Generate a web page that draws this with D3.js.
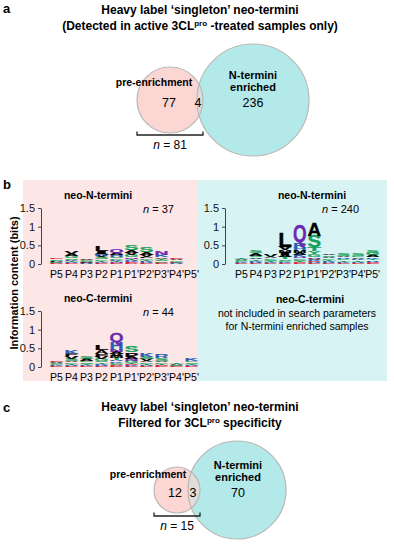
<!DOCTYPE html>
<html>
<head>
<meta charset="utf-8">
<script src="https://cdn.jsdelivr.net/npm/d3@7"></script>
<style>
  body { margin: 0; background: #fff; }
  svg { display: block; font-family: "Liberation Sans", Arial, sans-serif; }
</style>
</head>
<body>
<div id="fig"></div>
<script>
// ---- data ----
const positions = ["P5", "P4", "P3", "P2", "P1", "P1'", "P2'", "P3'", "P4'", "P5'"];
const yTicks = [0, 0.5, 1, 1.5];

// venn counts
const vennA = {left: 77, both: 4, right: 236, n: 81};
const vennC = {left: 12, both: 3, right: 70, n: 15};

// logo letters per position, bottom -> top, [residue, bits]
const logoNpre = [
  [["D",.015],["K",.02],["G",.025],["P",.03],["S",.035],["E",.045]],
  [["E",.02],["R",.025],["T",.03],["K",.035],["S",.045],["G",.05],["A",.05],["V",.065]],
  [["R",.015],["E",.02],["A",.025],["S",.03],["G",.03],["V",.04]],
  [["E",.02],["K",.03],["T",.035],["G",.04],["S",.05],["V",.05],["R",.055],["I",.06],["L",.14]],
  [["E",.02],["N",.025],["T",.03],["K",.035],["G",.04],["S",.045],["H",.05],["A",.06],["Q",.12]],
  [["D",.02],["E",.025],["K",.03],["R",.03],["T",.035],["N",.04],["G",.06],["V",.05],["A",.08],["S",.13]],
  [["E",.02],["R",.025],["K",.03],["T",.035],["G",.04],["P",.045],["V",.05],["A",.08],["S",.13]],
  [["E",.02],["D",.02],["G",.03],["S",.035],["T",.04],["A",.045],["K",.05],["N",.09]],
  [["R",.02],["D",.02],["T",.025],["G",.03],["A",.03],["E",.045]],
  [["N",.012],["E",.01]]
];
const logoNenr = [
  [["E",.02],["K",.025],["G",.03],["S",.03],["A",.03],["T",.035]],
  [["E",.025],["R",.03],["K",.035],["T",.04],["V",.045],["G",.05],["A",.06],["S",.075]],
  [["E",.02],["K",.025],["T",.03],["S",.035],["G",.04],["A",.045],["V",.055]],
  [["E",.02],["K",.03],["G",.04],["S",.045],["T",.05],["A",.055],["I",.06],["M",.065],["V",.085],["L",.4]],
  [["E",.02],["D",.025],["T",.03],["S",.035],["G",.04],["N",.045],["K",.05],["A",.06],["M",.06],["H",.07],["R",.15],["Q",.45]],
  [["E",.02],["R",.025],["D",.025],["K",.03],["V",.035],["N",.04],["G",.08],["Y",.08],["T",.12],["S",.3],["A",.35]],
  [["E",.02],["R",.025],["K",.03],["T",.035],["G",.04],["A",.04],["S",.045],["V",.045]],
  [["E",.03],["K",.03],["T",.035],["G",.04],["R",.04],["A",.045],["S",.06]],
  [["E",.03],["R",.03],["T",.035],["K",.04],["A",.04],["G",.045],["S",.06]],
  [["E",.03],["D",.03],["R",.035],["T",.04],["K",.045],["A",.05],["G",.06],["S",.07]]
];
const logoCpre = [
  [["E",.02],["K",.025],["G",.03],["S",.03],["A",.03],["E",.035]],
  [["E",.02],["R",.03],["T",.035],["G",.04],["A",.045],["S",.05],["V",.07],["P",.05],["K",.11]],
  [["E",.02],["K",.03],["T",.035],["S",.04],["G",.045],["A",.05],["S",.05]],
  [["E",.02],["R",.03],["K",.035],["T",.04],["S",.045],["G",.05],["V",.06],["F",.07],["A",.1],["L",.13]],
  [["E",.02],["D",.025],["S",.03],["G",.035],["K",.04],["R",.04],["T",.05],["M",.05],["V",.05],["A",.06],["N",.06],["H",.22],["Q",.25]],
  [["E",.02],["K",.03],["D",.03],["T",.04],["G",.05],["N",.05],["A",.06],["P",.12],["S",.16]],
  [["E",.02],["R",.03],["T",.035],["G",.04],["A",.045],["V",.05],["S",.06],["K",.11]],
  [["E",.02],["D",.03],["T",.035],["G",.04],["A",.045],["S",.06],["R",.09]],
  [["E",.02],["G",.02],["S",.02],["A",.02],["T",.02]],
  [["E",.02],["R",.03],["T",.035],["S",.04],["G",.045],["K",.05]]
];

const residueColor = r => {
  if ("DE".includes(r)) return "#d7263d";
  if ("KRH".includes(r)) return "#2b5fb4";
  if ("QN".includes(r)) return "#6a2ab0";
  if ("STGYC".includes(r)) return "#16a05a";
  return "#000";
};

const W = 394, H = 550;
const font = "'Liberation Sans', Arial, sans-serif";

const svg = d3.select("#fig").append("svg")
  .attr("width", W)
  .attr("height", H);

// panel letters
svg.append("text").attr("x", 3).attr("y", 13).attr("font-size", 13).attr("font-weight", "bold").text("a");
svg.append("text").attr("x", 3).attr("y", 189).attr("font-size", 13).attr("font-weight", "bold").text("b");
svg.append("text").attr("x", 3).attr("y", 412).attr("font-size", 13).attr("font-weight", "bold").text("c");

// ---- titles ----
function title(lines, y0) {
  lines.forEach((ln, i) => {
    const t = svg.append("text")
      .attr("x", 200).attr("y", y0 + i * 15.5)
      .attr("text-anchor", "middle")
      .attr("font-size", 12).attr("font-weight", "bold");
    ln.forEach(part => {
      const s = t.append("tspan").text(part.t);
      if (part.sup) s.attr("font-size", 8).attr("dy", -4);
      if (part.after) s.attr("dy", 4);
    });
  });
}
title([[{t: "Heavy label \u2018singleton\u2019 neo-termini"}],
       [{t: "(Detected in active 3CL"}, {t: "pro", sup: true}, {t: " -treated samples only)", after: true}]], 14);
title([[{t: "Heavy label \u2018singleton\u2019 neo-termini"}],
       [{t: "Filtered for 3CL"}, {t: "pro", sup: true}, {t: " specificity", after: true}]], 411);

// ---- venn diagrams ----
let clipId = 0;
function venn(cfg, v) {
  const g = svg.append("g");
  const id = "vclip" + (clipId++);
  g.append("clipPath").attr("id", id)
    .append("circle").attr("cx", cfg.rx).attr("cy", cfg.cy).attr("r", cfg.rr);
  g.append("circle").attr("cx", cfg.lx).attr("cy", cfg.cy).attr("r", cfg.lr).attr("fill", "#fcd6d3");
  g.append("circle").attr("cx", cfg.rx).attr("cy", cfg.cy).attr("r", cfg.rr).attr("fill", "#b4e9ea");
  g.append("circle").attr("cx", cfg.lx).attr("cy", cfg.cy).attr("r", cfg.lr)
    .attr("fill", "#e2dcd9").attr("clip-path", `url(#${id})`);
  g.selectAll("circle.outline")
    .data([[cfg.lx, cfg.lr], [cfg.rx, cfg.rr]])
    .join("circle").attr("class", "outline")
    .attr("cx", d => d[0]).attr("cy", cfg.cy).attr("r", d => d[1])
    .attr("fill", "none").attr("stroke", "#b8b8b8").attr("stroke-width", 1.2);

  g.append("text").attr("x", cfg.preX).attr("y", cfg.preY).attr("text-anchor", "middle")
    .attr("font-size", 10.5).attr("font-weight", "bold").text("pre-enrichment");
  g.append("text").attr("x", cfg.leftNumX).attr("y", cfg.numY).attr("text-anchor", "middle")
    .attr("font-size", 12.5).text(v.left);
  g.append("text").attr("x", cfg.bothX).attr("y", cfg.numY).attr("text-anchor", "middle")
    .attr("font-size", 12.5).text(v.both);
  g.append("text").attr("x", cfg.rightX).attr("y", cfg.ntY).attr("text-anchor", "middle")
    .attr("font-size", 11).attr("font-weight", "bold").text("N-termini");
  g.append("text").attr("x", cfg.rightX).attr("y", cfg.ntY + 12).attr("text-anchor", "middle")
    .attr("font-size", 11).attr("font-weight", "bold").text("enriched");
  g.append("text").attr("x", cfg.rightX).attr("y", cfg.numY).attr("text-anchor", "middle")
    .attr("font-size", 12.5).text(v.right);

  // bracket under the left circle
  const x0 = cfg.lx - cfg.lr, x1 = cfg.lx + cfg.lr, by = cfg.bracketY;
  g.append("path")
    .attr("d", `M${x0},${by - 3.5}V${by}H${x1}V${by - 3.5}`)
    .attr("fill", "none").attr("stroke", "#222").attr("stroke-width", 1.3);
  const nt = g.append("text").attr("x", cfg.lx).attr("y", by + 14).attr("text-anchor", "middle")
    .attr("font-size", 12);
  nt.append("tspan").attr("font-style", "italic").text("n");
  nt.append("tspan").text(" = " + v.n);
}

venn({lx: 170, lr: 33, rx: 253, rr: 56, cy: 100,
      preX: 154, preY: 86, leftNumX: 169, bothX: 198, rightX: 253, ntY: 79, numY: 107,
      bracketY: 135}, vennA);
venn({lx: 177, lr: 23, rx: 237, rr: 49, cy: 490,
      preX: 148, preY: 478, leftNumX: 175, bothX: 193, rightX: 238, ntY: 469, numY: 497,
      bracketY: 516}, vennC);

// ---- panel b backgrounds ----
svg.append("rect").attr("x", 23).attr("y", 180).attr("width", 174).attr("height", 201).attr("fill", "#fde6e6");
svg.append("rect").attr("x", 197).attr("y", 180).attr("width", 190).attr("height", 201).attr("fill", "#d8f3f4");

svg.append("text")
  .attr("transform", "translate(18,283) rotate(-90)")
  .attr("text-anchor", "middle").attr("font-size", 11).attr("font-weight", "bold")
  .text("Information content (bits)");

// ---- sequence logos ----
function logo(data, axisX, x0, x1, base, label, nLabel, titleX, nX) {
  const g = svg.append("g");
  const x = d3.scaleBand().domain(positions).range([x0, x1]);
  const y = d3.scaleLinear().domain([0, 1.5]).range([base, base - 56]);

  g.append("g")
    .attr("transform", `translate(${axisX},0)`)
    .call(d3.axisLeft(y).tickValues(yTicks).tickFormat(d3.format("")).tickSize(3).tickSizeOuter(0))
    .call(a => a.select(".domain").attr("stroke", "#444"))
    .call(a => a.selectAll(".tick line").attr("stroke", "#444"))
    .call(a => a.selectAll("text").attr("font-size", 11).attr("font-family", font).attr("fill", "#111"));

  const F = 20, cap = 0.716 * F;
  data.forEach((col, i) => {
    let acc = 0;
    col.forEach(([res, bits]) => {
      const yb = y(acc), yt = y(acc + bits);
      acc += bits;
      const ph = yb - yt;
      g.append("text")
        .attr("transform", `translate(${x(positions[i]) + 0.5},${yb}) scale(1,${ph / cap})`)
        .attr("font-size", F).attr("font-weight", "bold")
        .attr("textLength", x.bandwidth() - 1).attr("lengthAdjust", "spacingAndGlyphs")
        .attr("fill", residueColor(res))
        .attr("stroke", residueColor(res)).attr("stroke-width", 0.35)
        .attr("vector-effect", "non-scaling-stroke")
        .text(res);
    });
  });

  g.selectAll("text.pos")
    .data(positions)
    .join("text").attr("class", "pos")
    .attr("x", d => x(d) + x.bandwidth() / 2)
    .attr("y", base + 14)
    .attr("text-anchor", "middle").attr("font-size", 10.5)
    .text(d => d);

  g.append("text").attr("x", titleX).attr("y", base - 65).attr("text-anchor", "middle")
    .attr("font-size", 10.5).attr("font-weight", "bold").text(label);
  const nt = g.append("text").attr("x", nX).attr("y", base - 51).attr("font-size", 11);
  nt.append("tspan").attr("font-style", "italic").text("n");
  nt.append("tspan").text(" = " + nLabel);
}

logo(logoNpre, 41, 49, 199, 264, "neo-N-termini", 37, 98, 143);
logo(logoNenr, 225, 234, 380, 264, "neo-N-termini", 240, 312, 322);
logo(logoCpre, 41, 49, 199, 367, "neo-C-termini", 44, 98, 143);

// right bottom note
svg.append("text").attr("x", 310).attr("y", 303).attr("text-anchor", "middle")
  .attr("font-size", 10.5).attr("font-weight", "bold").text("neo-C-termini");
svg.append("text").attr("x", 297).attr("y", 317).attr("text-anchor", "middle")
  .attr("font-size", 10.5).text("not included in search parameters");
svg.append("text").attr("x", 297).attr("y", 330).attr("text-anchor", "middle")
  .attr("font-size", 10.5).text("for N-termini enriched samples");
</script>
</body>
</html>
